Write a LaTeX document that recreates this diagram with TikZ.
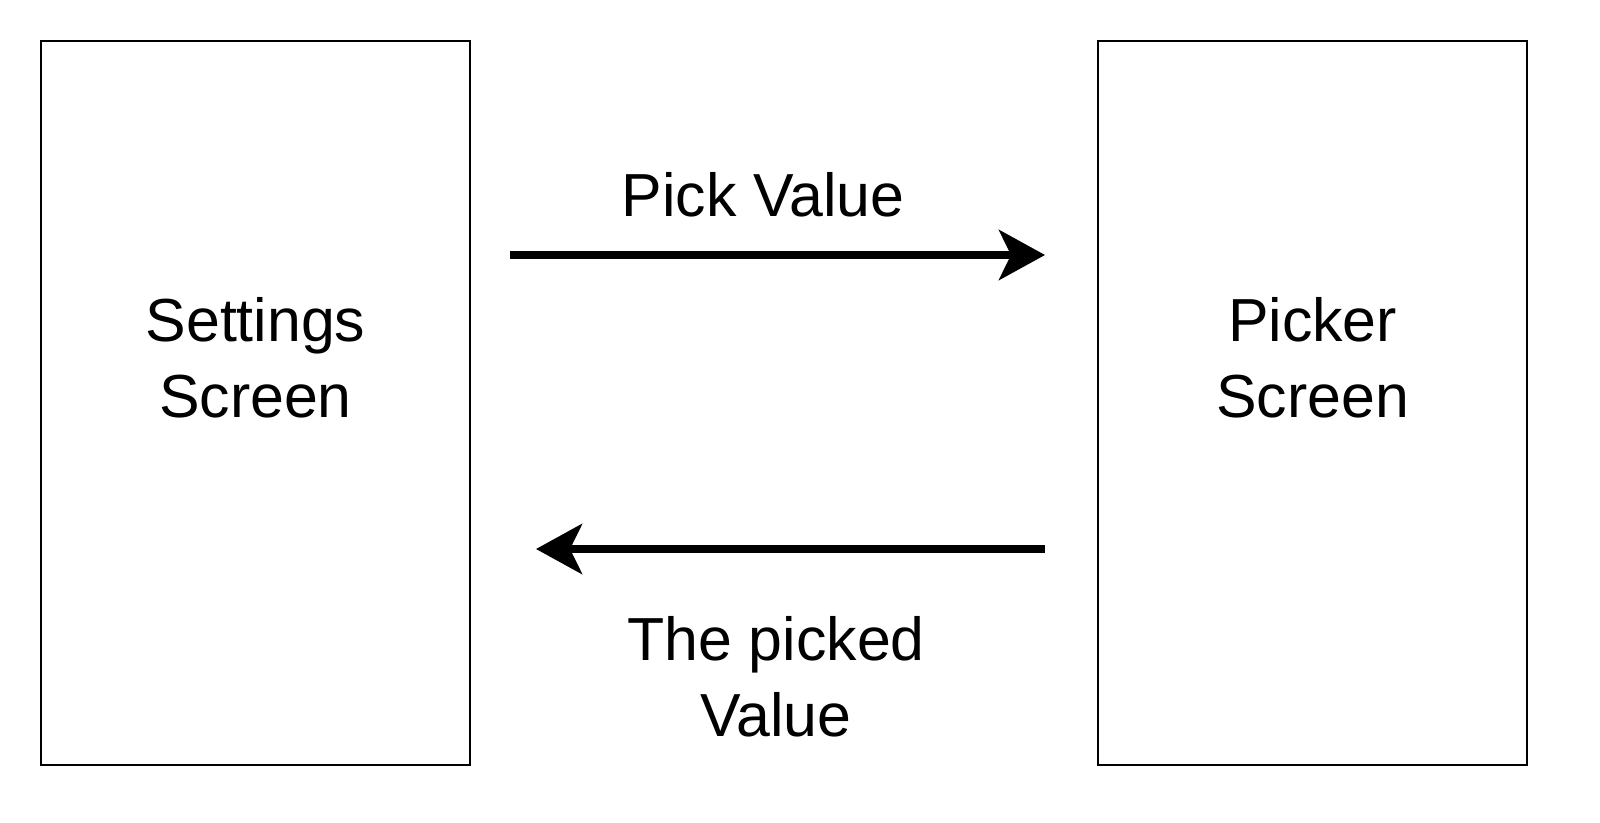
\documentclass[tikz,border=0pt]{standalone}
\usepackage{fontspec}
\setmainfont{Liberation Sans}
\usetikzlibrary{positioning,arrows.meta}

\begin{document}
\begin{tikzpicture}[
  screen/.style={draw,line width=0.8pt,minimum width=4.29cm,minimum height=7.24cm},
  flow/.style={line width=2.2pt,-{Stealth[length=4.6mm,width=5mm,inset=1.2mm]}},
  lbl/.style={align=center,font=\fontsize{17.3}{21.5}\selectfont}]
\useasboundingbox (0,0) rectangle (16,8.22);
\node[screen] (settings) at (2.555,4.19) {};
\node[screen] (picker) at (13.125,4.19) {};
\node[lbl] (settingsname) at ([yshift=0.45cm]settings.center) {Settings\\Screen};
\node[lbl] (pickername) at ([yshift=0.45cm]picker.center) {Picker\\Screen};
\coordinate (go1) at (5.10,5.67);
\coordinate (go2) at (10.45,5.67);
\coordinate (back1) at (10.45,2.73);
\coordinate (back2) at (5.36,2.73);
\draw[flow] (go1) -- (go2);
\draw[flow] (back1) -- (back2);
\node[lbl] (pick) at (7.63,6.27) {Pick Value};
\node[lbl] (picked) at (7.76,1.45) {The picked\\Value};
\end{tikzpicture}
\end{document}
